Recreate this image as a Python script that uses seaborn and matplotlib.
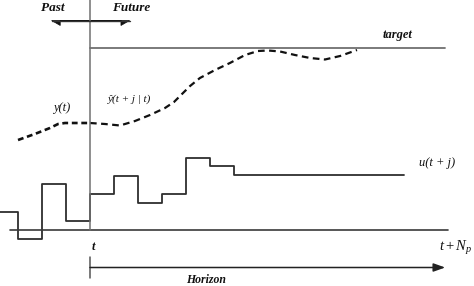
import matplotlib
matplotlib.use("Agg")
import matplotlib.pyplot as plt
import seaborn as sns
import pandas as pd

# Time axis in sampling steps, t = 0 is the current instant
horizon_end = 14.8
target_level = 18.2

# Control input u: step edges and held values
u_edges = [-4, -3, -2, -1, 0, 1, 2, 3, 4, 5, 6, 13.1]
u_values = [1.8, -0.9, 4.6, 0.9, 3.6, 5.4, 2.7, 3.6, 7.2, 6.4, 5.5, 5.5]

# Measured output y(t) up to now
y_past_t = [-3.0, -2.3, -1.67, -1.33, -1.04, 0.0]
y_past_v = [9.0, 9.6, 10.2, 10.6, 10.7, 10.7]

# Predicted output y^(t+j|t)
y_pred_t = [0.0, 0.625, 1.25, 1.875, 2.5, 3.125, 3.5, 3.75, 4.17, 4.58, 5.21,
            5.83, 6.46, 7.0, 7.42, 7.92, 8.54, 9.17, 9.79, 10.42, 11.125]
y_pred_v = [10.7, 10.6, 10.45, 10.9, 11.5, 12.2, 12.8, 13.4, 14.4, 15.2, 16.0,
            16.7, 17.5, 17.9, 17.95, 17.85, 17.5, 17.2, 17.05, 17.4, 18.0]

sns.set_style("white")
plt.rcParams["mathtext.fontset"] = "custom"
plt.rcParams["mathtext.rm"] = "Liberation Serif"
plt.rcParams["mathtext.it"] = "Liberation Serif:italic"

fig = plt.figure(figsize=(4.74, 2.86), dpi=100)
ax = fig.add_axes([0, 0, 1, 1])
ax.set_xlim(-3.75, 16.0)
ax.set_ylim(-5.6, 23.0)
ax.axis("off")

u_df = pd.DataFrame({"t": u_edges, "u": u_values})
sns.lineplot(data=u_df, x="t", y="u", ax=ax, drawstyle="steps-post",
             color="#2e2e2e", lw=1.3)

past_df = pd.DataFrame({"t": y_past_t, "y": y_past_v})
sns.lineplot(data=past_df, x="t", y="y", ax=ax, sort=False,
             color="#111111", lw=1.9, linestyle=(0, (2.2, 1.4)))
pred_df = pd.DataFrame({"t": y_pred_t, "y": y_pred_v})
sns.lineplot(data=pred_df, x="t", y="y", ax=ax, sort=False,
             color="#111111", lw=1.6, linestyle=(0, (3.0, 2.0)))

# Reference lines
ax.plot([0, horizon_end], [target_level, target_level], color="#707070", lw=1.3)
ax.plot([-3.33, 14.9], [0, 0], color="#3a3a3a", lw=1.2)
ax.plot([0, 0], [0, 23.0], color="#707070", lw=1.1)

# Past / Future arrow with half heads hanging below the shaft
arrow_y = 20.95
ax.plot([-1.6, 1.65], [arrow_y, arrow_y], color="#333333", lw=1.0)
ax.arrow(0, arrow_y, -1.6, 0, shape="right", length_includes_head=True,
         head_width=1.0, head_length=0.36, width=0.0, color="#111111", lw=0.5)
ax.arrow(0, arrow_y, 1.65, 0, shape="left", length_includes_head=True,
         head_width=1.0, head_length=0.36, width=0.0, color="#111111", lw=0.5)

# Horizon arrow
ax.plot([0, 0], [-2.7, -4.8], color="#555555", lw=1.1)
ax.annotate("", xy=(horizon_end, -3.75), xytext=(0, -3.75),
            arrowprops=dict(arrowstyle="-|>,head_length=0.7,head_width=0.25",
                            color="#222222", lw=1.1, shrinkA=0, shrinkB=0))

serif = "Liberation Serif"
ax.text(-1.54, 22.2, "Past", family=serif, style="italic", weight="bold",
        fontsize=9.5, ha="center", va="center", color="#111111")
ax.text(1.71, 22.2, "Future", family=serif, style="italic", weight="bold",
        fontsize=9.5, ha="center", va="center", color="#111111")
ax.text(12.8, 19.5, "target", family=serif, style="italic", weight="bold",
        fontsize=9, ha="center", va="center", color="#111111")
ax.text(-1.2, 12.2, "y(t)", family=serif, style="italic",
        fontsize=9, ha="center", va="center", color="#111111")
ax.text(1.67, 13.1, "ŷ(t + j | t)", family=serif, style="italic",
        fontsize=8, ha="center", va="center", color="#111111")
ax.text(14.46, 6.7, "u(t + j)", family=serif, style="italic",
        fontsize=9, ha="center", va="center", color="#111111")
ax.text(0.12, -1.7, "t", family=serif, style="italic", weight="bold",
        fontsize=9, ha="center", va="center", color="#111111")
ax.text(14.55, -1.8, r"$t + N_p$", fontsize=10.5, ha="left", va="center",
        color="#111111")
ax.text(4.83, -5.0, "Horizon", family=serif, style="italic", weight="bold",
        fontsize=8.5, ha="center", va="center", color="#111111")

fig.savefig("out.png", dpi=100)
